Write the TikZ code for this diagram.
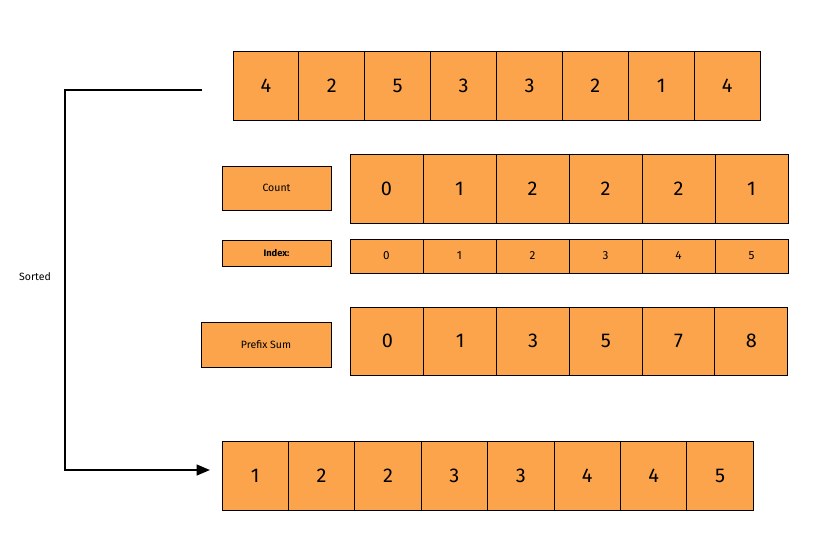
\documentclass[tikz,border=0pt]{standalone}
\usepackage{fontspec}
\setmainfont{Fira Sans}
\usetikzlibrary{positioning, arrows.meta}
\definecolor{cellorange}{HTML}{FCA44C}
\tikzset{
  cell/.style={draw, thick, fill=cellorange, minimum height=#1, inner sep=0pt, font=\fontsize{17}{17}\selectfont},
  tag/.style={draw, thick, fill=cellorange, inner sep=0pt, font=\fontsize{9}{9}\selectfont},
}
\begin{document}
\begin{tikzpicture}[x=0.3mm, y=-0.3mm]
	\useasboundingbox (0,0) rectangle (826,536);

	% input array
	\foreach \v [count=\i from 0] in {4,2,5,3,3,2,1,4}
		\node[cell=20.7mm, minimum width=19.76mm] (in\i) at ({233+65.9*\i+32.9}, 86) {\v};

	% count array
	\node[tag, minimum width=32.7mm, minimum height=13.2mm] (countlbl) at (276.5,188) {Count};
	\foreach \v [count=\i from 0] in {0,1,2,2,2,1}
		\node[cell=20.7mm, minimum width=21.9mm] (cnt\i) at ({350+73*\i+36.5}, 188.5) {\v};

	% index row
	\node[tag, minimum width=32.7mm, minimum height=7.8mm, font=\fontsize{8}{8}\selectfont\bfseries] (idxlbl) at (276.5,253) {Index:};
	\foreach \v [count=\i from 0] in {0,1,2,3,4,5}
		\node[cell=10.2mm, minimum width=21.9mm, font=\fontsize{10}{10}\selectfont] (idx\i) at ({350+73*\i+36.5}, 256) {\v};

	% prefix sums
	\node[tag, minimum width=39mm, minimum height=13.5mm] (prelbl) at (266,344.5) {Prefix Sum};
	\foreach \v [count=\i from 0] in {0,1,3,5,7,8}
		\node[cell=20.4mm, minimum width=21.9mm] (pre\i) at ({351+72.8*\i+36.4}, 341) {\v};

	% sorted output
	\foreach \v [count=\i from 0] in {1,2,2,3,3,4,4,5}
		\node[cell=20.7mm, minimum width=19.9mm] (out\i) at ({222+66.4*\i+33.2}, 475.5) {\v};

	% sorted arrow
	\coordinate (start) at (202,90);
	\coordinate (bend1) at (65,90);
	\coordinate (bend2) at (65,470);
	\coordinate (stop) at (210,470);
	\draw[line width=1.8pt, -{Triangle[length=4mm, width=3.2mm]}] (start) -- (bend1) -- (bend2) -- (stop);
	\node[font=\fontsize{9}{9}\selectfont] (sorted) at (35,277) {Sorted};
\end{tikzpicture}
\end{document}
